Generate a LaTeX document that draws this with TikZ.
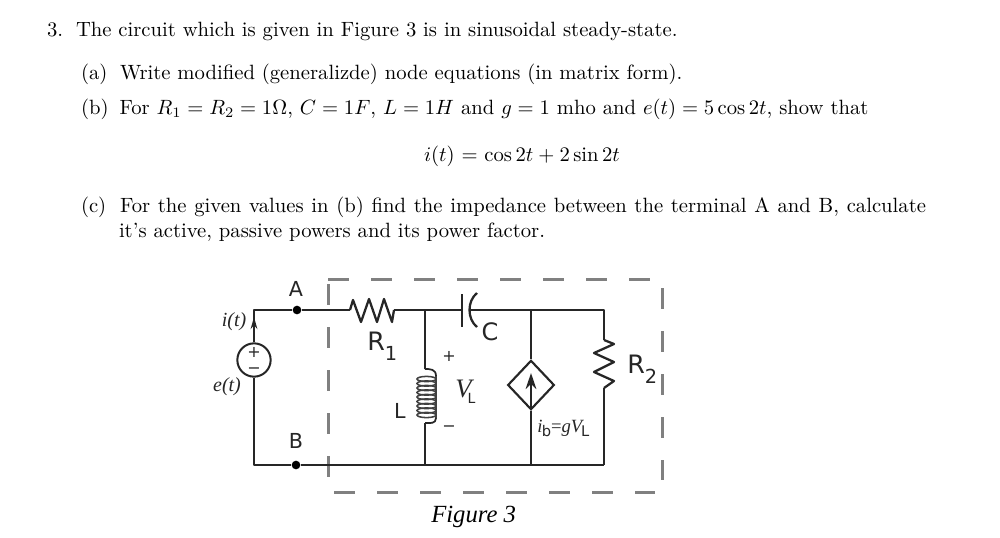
\documentclass[tikz,border=0pt]{standalone}
\usepackage{fontspec}
\usepackage{amsmath}
\newfontfamily\sanslab{DejaVu Sans}
\newfontfamily\serlab{Liberation Serif}
\usetikzlibrary{arrows.meta,shapes.geometric}
\tikzset{
  wire/.style={draw=black!85,line width=1.7pt,line join=round},
  thinw/.style={draw=black!75,line width=1.15pt},
  frame/.style={draw=black!50,line width=2.25pt,dash pattern=on 15.75pt off 16.5pt},
  txt/.style={anchor=base west,inner sep=0pt,outer sep=0pt,scale=1.55},
  slab/.style={inner sep=0pt,font=\sanslab\fontsize{15.5}{17}\selectfont,text=black!85},
  rlab/.style={inner sep=0pt,anchor=base west,font=\sanslab\fontsize{19}{21}\selectfont,text=black!85},
  ilab/.style={inner sep=0pt,font=\serlab\itshape\fontsize{15}{17}\selectfont,text=black!85},
  sign/.style={inner sep=0pt,font=\sanslab\fontsize{12}{13}\selectfont,text=black!85},
  dot/.style={circle,fill=black,inner sep=0pt,minimum size=6.5pt},
  src/.style={circle,draw=black!85,line width=1.5pt,minimum size=25pt,inner sep=0pt},
  dep/.style={diamond,draw=black!85,line width=1.6pt,minimum width=35pt,minimum height=37pt,inner sep=0pt,aspect=1},
  tipa/.style={-{Stealth[length=9pt,width=5pt]}},
  tipb/.style={-{Stealth[length=12pt,width=8pt]}}
}
\begin{document}
\begin{tikzpicture}[x=0.75pt,y=-0.75pt]
\useasboundingbox (0,0) rectangle (1000,537);
\fill[white] (0,0) rectangle (1000,537);
% text
\node[txt] (q3n) at (47,36.5) {3.};
\node[txt] (q3) at (76,36.5) {The circuit which is given in Figure 3 is in sinusoidal steady-state.};
\node[txt] (qan) at (81,79) {(a)};
\node[txt] (qa) at (120,79) {Write modified (generalizde) node equations (in matrix form).};
\node[txt] (qbn) at (81,114) {(b)};
\node[txt] (qb) at (119.5,114) {\hbox to 362.4pt{For \(R_1=R_2=1\Omega\), \(C=1F\), \(L=1H\) and \(g=1\) mho and \(e(t)=5\cos 2t\), show that}};
\node[txt] (qe) at (424,161) {\hbox to 94.8pt{\(i(t)=\cos 2t+2\sin 2t\)}};
\node[txt] (qcn) at (81,212) {(c)};
\node[txt] (qc) at (120,212) {\hbox to 390pt{For the given values in (b) find the impedance between the terminal A and B, calculate}};
\node[txt] (qd) at (119,237) {it's active, passive powers and its power factor.};
% frame
\coordinate (f1) at (328,279.5); \coordinate (f2) at (650,279.5);
\coordinate (f3) at (328,284); \coordinate (f4) at (328,478);
\coordinate (f5) at (334,492); \coordinate (f6) at (655,492);
\coordinate (f7) at (662,288); \coordinate (f8) at (662,480);
\draw[frame] (f1) -- (f2);
\draw[frame] (f3) -- (f4);
\draw[frame] (f5) -- (f6);
\draw[frame] (f7) -- (f8);
% nodes
\coordinate (tl) at (254,310);
\coordinate (bl) at (254,465);
\node[dot] (A) at (297,310) {};
\node[dot] (B) at (296,465) {};
\coordinate (r1a) at (350,310);
\coordinate (r1b) at (394,310);
\coordinate (j1) at (425,310);
\coordinate (j1b) at (425,465);
\coordinate (c1) at (462,310);
\coordinate (c2) at (469,310);
\coordinate (j2) at (531,310);
\coordinate (j2b) at (531,465);
\coordinate (j3) at (604,310);
\coordinate (j3b) at (604,465);
\coordinate (r2a) at (604,340);
\coordinate (r2b) at (604,388);
\coordinate (la) at (425,369);
\coordinate (lb) at (425,423);
\node[src] (E) at (254,360) {};
\node[dep] (D) at (531,385) {};
% wires
\draw[wire] (E.north) -- (tl) -- (A) -- (r1a);
\draw[wire] (E.south) -- (bl) -- (B) -- (j1b) -- (j2b) -- (j3b);
\draw[wire] (r1b) -- (j1) -- (c1);
\draw[wire] (c2) -- (j2) -- (j3) -- (r2a);
\draw[wire] (r2b) -- (j3b);
\draw[wire] (j1) -- (la);
\draw[wire] (lb) -- (j1b);
\draw[wire] (j2) -- (D.north);
\draw[wire] (D.south) -- (j2b);
% R1
\draw[wire] (r1a) -- (353,300) -- (361,322) -- (369,299) -- (377,322) -- (384,299) -- (392,322) -- (r1b);
% R2
\draw[wire] (r2a) -- (614,344) -- (594,353) -- (614,362) -- (594,372) -- (614,381) -- (r2b);
% C
\draw[wire] (c1 |- 0,294) -- (c1 |- 0,327);
\draw[wire] (477,293) .. controls (467,301) and (467,319) .. (477,327);
% L
\foreach \yy in {379,383.5,388,392.5,397,401.5,406,410.5,415}
  \draw[thinw] (426.5,\yy) ellipse (9.5 and 2.6);
\draw[wire,line width=1.3pt] (la) .. controls (430,369) and (436,369) .. (436,376);
\draw[thinw,line width=1.3pt] (436,376) -- (436,418);
\draw[wire,line width=1.3pt] (436,418) .. controls (436,424) and (430,423) .. (lb);
% arrows
\coordinate (ia) at (254,335);
\coordinate (ib) at (254,317);
\draw[wire,tipa] (ia) -- (ib);
\coordinate (da) at (531,408);
\coordinate (db) at (531,373);
\draw[wire,tipb] (da) -- (db);
% labels
\node[slab] (lA) at (296,289) {A};
\node[slab] (lB) at (296,441) {B};
\node[rlab] (lR1) at (367,350) {R\raisebox{-8pt}{\fontsize{14.5}{15}\selectfont 1}};
\node[rlab] (lR2) at (627,373) {R\raisebox{-8pt}{\fontsize{14.5}{15}\selectfont 2}};
\node[slab] (lL) at (400,411) {L};
\node[slab,font=\sanslab\fontsize{18}{20}\selectfont] (lC) at (490,332) {C};
\node[ilab] (li) at (234,322) {i(t)};
\node[ilab] (le) at (227,387) {e(t)};
\node[sign] (lp) at (449,356) {+};
\node[sign] (lm) at (449,429) {−};
\node[sign] (sp) at (254,352) {+};
\node[sign] (sm) at (254,371) {−};
\node[ilab,anchor=base west,font=\serlab\itshape\fontsize{20}{22}\selectfont] (lV) at (455,397) {V\kern-3pt{\sanslab\upshape\fontsize{10.5}{11}\selectfont\raisebox{-4.5pt}{L}}};
\node[ilab,anchor=base west,font=\serlab\itshape\fontsize{14}{16}\selectfont] (lib) at (537,432) {i\kern-0.5pt{\sanslab\upshape\fontsize{11}{12}\selectfont\raisebox{-3pt}{b}}{\upshape=}gV\kern-1pt{\sanslab\upshape\fontsize{11}{12}\selectfont\raisebox{-3pt}{L}}};
\node[ilab,anchor=base west,font=\serlab\itshape\fontsize{18.5}{20}\selectfont,text=black] (fig) at (431,522) {Figure 3};
\end{tikzpicture}
\end{document}
